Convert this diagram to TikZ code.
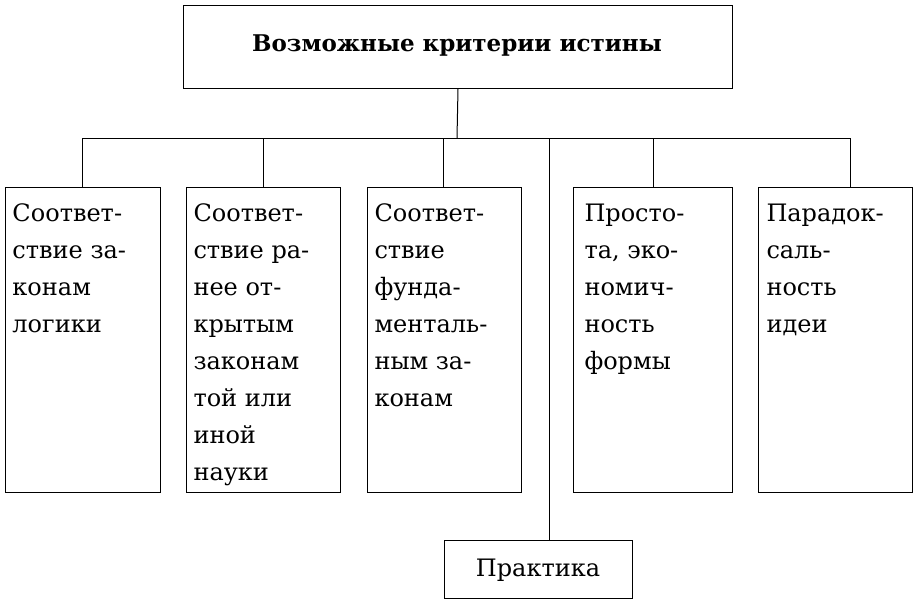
\documentclass[tikz,border=0pt]{standalone}
\usepackage{fontspec}
\setmainfont{DejaVu Serif}
\begin{document}
\begin{tikzpicture}[x=1pt,y=-1pt,line width=1pt,
  txt/.style={anchor=north west,align=left,font=\fontsize{24}{37}\selectfont,inner sep=0pt}]
\useasboundingbox (0,0) rectangle (922,600);
\node[draw,minimum width=549,minimum height=83,anchor=north west,inner sep=0pt] (top) at (183,5) {};
\node[font=\fontsize{23}{25}\selectfont\bfseries] (toptxt) at (457,46) {Возможные критерии истины};
\foreach \n/\x/\w in {b1/5/155,b2/186/154,b3/367/154,b4/573/159,b5/758/154}{
  \node[draw,minimum width=\w,minimum height=305,anchor=north west,inner sep=0pt] (\n) at (\x,187) {};
}
\node[txt] (t1) at (12,203) {Соответ-\\ствие за-\\конам\\логики};
\node[txt] (t2) at (193,203) {Соответ-\\ствие ра-\\нее от-\\крытым\\законам\\той или\\иной\\науки};
\node[txt] (t3) at (374,203) {Соответ-\\ствие\\фунда-\\менталь-\\ным за-\\конам};
\node[txt] (t4) at (584,203) {Просто-\\та, эко-\\номич-\\ность\\формы};
\node[txt] (t5) at (766,203) {Парадок-\\саль-\\ность\\идеи};
\node[draw,minimum width=188,minimum height=58,anchor=north west,inner sep=0pt] (pr) at (444,540) {};
\node[font=\fontsize{24}{25}\selectfont] (prtxt) at (538,570) {Практика};
\coordinate (hl) at (82,138);
\coordinate (hr) at (850,138);
\draw (top.south) -- (457,138);
\draw (hl) -- (hr);
\draw (hl) -- (82,187);
\draw (263,138) -- (263,187);
\draw (443,138) -- (443,187);
\draw (653,138) -- (653,187);
\draw (hr) -- (850,187);
\draw (549,138) -- (pr.north -| 549,0);
\end{tikzpicture}
\end{document}
